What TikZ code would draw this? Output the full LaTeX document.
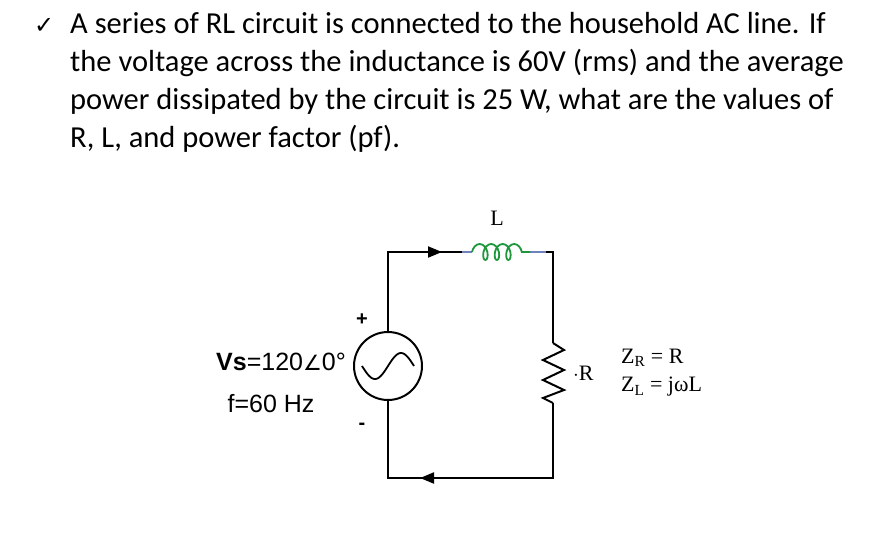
\documentclass[tikz,border=0pt]{standalone}
\usepackage{fontspec}
\setmainfont{Carlito}
\newfontfamily\arialf{Liberation Sans}
\newfontfamily\timesf{Liberation Serif}
\newfontfamily\dejaf{DejaVu Sans}
\usetikzlibrary{arrows.meta,decorations.pathmorphing,decorations.markings}
\definecolor{indg}{RGB}{30,150,60}
\definecolor{wireb}{RGB}{110,130,190}
\begin{document}
\begin{tikzpicture}[x=1pt,y=-1pt,
  wire/.style={line width=2pt,black},
  body/.style={font=\fontsize{30.5}{38}\selectfont,anchor=base west,inner sep=0},
  lab/.style={font=\arialf\fontsize{25}{28}\selectfont,inner sep=0},
  tlab/.style={font=\timesf\fontsize{22}{26}\selectfont,inner sep=0},
  arr/.style={-{Triangle[length=14pt,width=11pt]},line width=2pt}]
\useasboundingbox (0,0) rectangle (884,542);
\node[body,font=\dejaf\fontsize{24}{30}\selectfont] (chk) at (34,33) {\symbol{"2713}};
\node[body] (t1) at (70,33) {A series of RL circuit is connected to the household AC line. If};
\node[body] (t2) at (70,71) {the voltage across the inductance is 60V (rms) and the average};
\node[body] (t3) at (70,109) {power dissipated by the circuit is 25 W, what are the values of};
\node[body] (t4) at (70,147) {R, L, and power factor (pf).};
% circuit
\node[circle,draw,line width=2pt,minimum size=68pt,inner sep=0] (src) at (388,366) {};
\draw[line width=1.8pt,shift={(src.center)}] plot[domain=-26:26,samples=60,smooth] (\x,{-13*sin(\x/26*180)});
\coordinate (tl) at (388,252);
\coordinate (tr) at (553,252);
\coordinate (br) at (553,478);
\coordinate (bl) at (388,478);
\coordinate (li) at (472,252);
\coordinate (lo) at (530,252);
\coordinate (ri) at (553,343);
\coordinate (ro) at (553,403);
\draw[wire] (src.north) -- (tl) -- (462,252);
\draw[arr] (tl) -- (442,252);
\draw[line width=1.5pt,wireb] (462,252) -- (li);
\draw[line width=1.5pt,wireb] (lo) -- (546,252);
\draw[wire] (546,252) -- (tr) -- (ri);
\draw[line width=1.8pt,indg,decorate,decoration={coil,aspect=0.6,segment length=11.5pt,amplitude=8pt}] (li) -- (lo);
\draw[wire,line join=miter] (ri) -- (564,350) -- (543,360) -- (564,370) -- (543,380) -- (564,390) -- (543,398) -- (ro);
\draw[wire] (ro) -- (br) -- (bl) -- (src.south);
\draw[arr] (br) -- (420,478);
\node[lab,font=\arialf\bfseries\fontsize{20}{22}\selectfont] (plus) at (362,320) {+};
\node[lab,font=\arialf\bfseries\fontsize{20}{22}\selectfont] (minus) at (362,426) {-};
\node[tlab] (L) at (497,218) {L};
\node[tlab,anchor=west] (R) at (573,373) {$\cdot$R};
\node[lab,anchor=east] (vs) at (346,362) {\textbf{Vs}=120{\dejaf\fontsize{21}{24}\selectfont\symbol{"2220}}0\textdegree};
\node[lab] (f) at (271,404) {f=60 Hz};
\node[tlab,anchor=west] (zr) at (621,358) {Z\textsubscript{R} = R};
\node[tlab,anchor=west] (zl) at (621,387) {Z\textsubscript{L} = j\symbol{"03C9}L};
\end{tikzpicture}
\end{document}
